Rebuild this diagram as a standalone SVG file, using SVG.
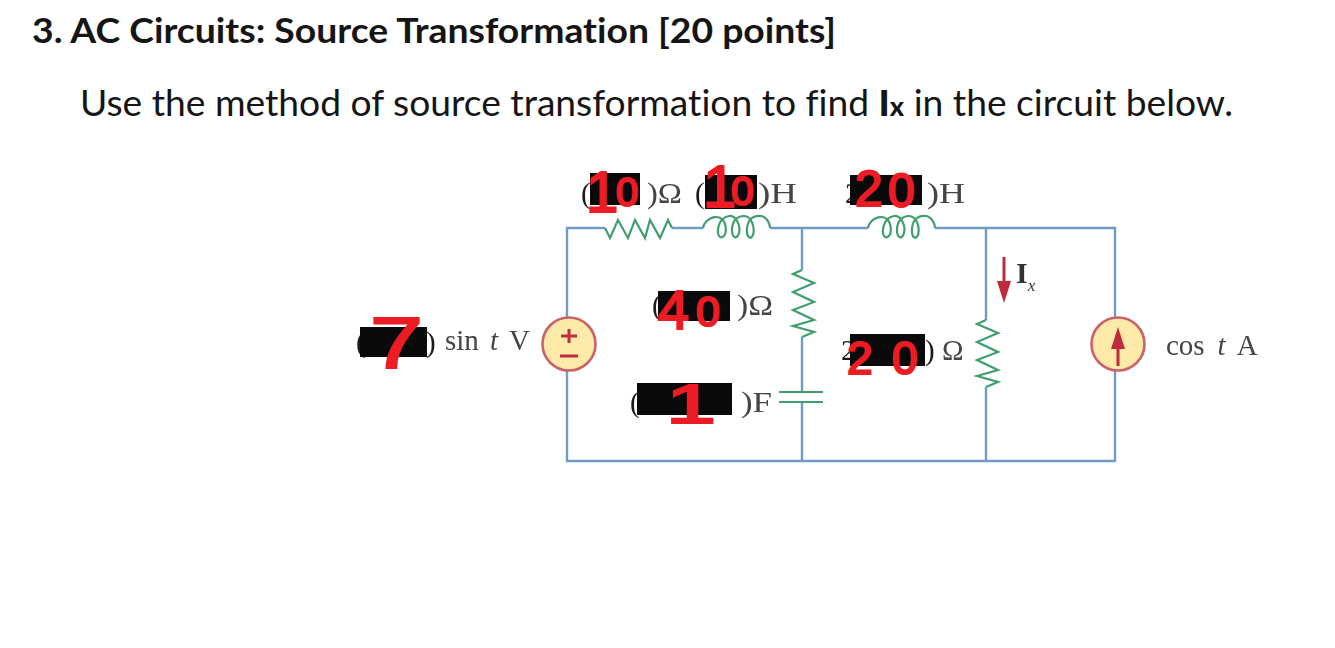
<svg xmlns="http://www.w3.org/2000/svg" width="1335" height="648" viewBox="0 0 1335 648">
<style>
.h{font-family:Lato,"Open Sans",sans-serif;font-variant-ligatures:none;fill:#151515}
.t{font-family:"Liberation Serif","Times New Roman",serif;fill:#444;filter:url(#soft)}
.i{font-style:italic}
.p{fill:#1a1a1a}
.b{fill:#0a0a0a}
.r{font-family:"Liberation Sans",Arial,sans-serif;fill:#ed1c24;stroke:#ed1c24;stroke-width:2.2px}
.w{fill:none;stroke:#6f9bc4;stroke-width:2.4}
.g{fill:none;stroke:#3f9e6e;stroke-width:2.2;stroke-linejoin:miter}
.s{fill:#fde9a8;stroke:#c9626a;stroke-width:2.6}
.m{stroke:#bf2a3c;stroke-width:3;fill:none}
.a{fill:#bf2a3c}
</style>
<defs>
<filter id="soft" x="-5%" y="-5%" width="110%" height="110%"><feGaussianBlur stdDeviation="0.45"/></filter>
<path id="coil" class="g" d="M0 0C2-11 18-16 22-4C25 8 19 10 17 9C13 7 14-10 26-12C33-13 38-2 36 5C34 12 29 10 29 2C29-8 35-12 41-12C49-12 52 0 50 7C48 12 43 10 44 0C45-10 52-13 58-12C64-11 67-4 67 0"/>
<polyline id="rv" class="g" points="0,0 -9,4 12,13 -9,22 12,32 -9,40 12,50 -9,56 12,62 0,67"/>
</defs>
<rect width="1335" height="648" fill="#fff"/>
<text id="title" class="h" x="32" y="43" font-size="34" font-weight="700" textLength="804" lengthAdjust="spacingAndGlyphs">3. AC Circuits: Source Transformation [20 points]</text>
<text id="prompt" class="h" x="80" y="116" font-size="36" textLength="1153" lengthAdjust="spacingAndGlyphs">Use the method of source transformation to find <tspan font-weight="900">I</tspan><tspan font-weight="900" font-size="26">x</tspan> in the circuit below.</text>
<g filter="url(#soft)">
<g id="connectors">
<path class="w" d="M605 228H567V461H1115V228H935M868 228H770M703 228H672M802 228V270M802 337V392M802 402V461M986 228V320M986 387V461"/>
</g>
<g id="R1"><polyline class="g" points="605,228 610,238 618,220 628,238 635,220 645,238 650,220 660,238 668,220 672,228"/></g>
<g id="L1"><use href="#coil" x="703" y="228"/></g>
<g id="L2"><use href="#coil" x="868" y="228"/></g>
<g id="R2"><use href="#rv" x="802" y="270"/></g>
<g id="C1"><path class="g" d="M779 392H823M779 402H823"/></g>
<g id="R3"><use href="#rv" x="986" y="320"/></g>
<g id="Vs"><circle class="s" cx="569" cy="344" r="26.5"/><path class="m" d="M569 329V343M561 336H577M560 356H578"/></g>
<g id="Is"><circle class="s" cx="1118" cy="344" r="26.5"/><path class="m" d="M1118 366V340"/><path class="a" d="M1118 327L1125 349H1111Z"/></g>
<g id="Ix"><path class="m" d="M1004 257V284"/><path class="a" d="M1004 303L997 281H1011Z"/></g>
</g>
<g id="label-ix"><text x="1016" y="283" font-size="30" font-weight="700" class="t" style="fill:#333">I<tspan class="i" font-size="17" font-weight="400" dy="8">x</tspan></text></g>
<g id="label-source">
<text class="t p" x="356" y="352" font-size="29">(</text><rect class="b" x="360" y="327" width="67" height="30"/><text class="t p" x="426" y="352" font-size="29">)</text>
<text class="t" x="445" y="350" font-size="29" word-spacing="4" xml:space="preserve">sin <tspan class="i">t</tspan> V</text>
<text class="r" x="370" y="368" font-size="72" textLength="53" lengthAdjust="spacingAndGlyphs">7</text>
</g>
<g id="label-r1">
<text class="t p" x="581" y="203" font-size="29">(</text><rect class="b" x="590" y="173" width="50" height="32"/><text class="t" x="647" y="203" font-size="29" textLength="35" lengthAdjust="spacingAndGlyphs">)Ω</text>
<text class="r"><tspan x="586" y="212" font-size="58">1</tspan><tspan x="616" y="206" font-size="40">0</tspan></text>
</g>
<g id="label-l1">
<text class="t p" x="695" y="203" font-size="29">(</text><rect class="b" x="705" y="175" width="52" height="34"/><text class="t" x="758" y="203" font-size="29" textLength="39" lengthAdjust="spacingAndGlyphs">)H</text>
<text class="r"><tspan x="703" y="207" font-size="60">1</tspan><tspan x="731" y="205" font-size="41">0</tspan></text>
</g>
<g id="label-l2">
<text class="t p" x="845" y="203" font-size="29">2</text><rect class="b" x="850" y="175" width="72" height="30"/><text class="t" x="927" y="203" font-size="29" textLength="38" lengthAdjust="spacingAndGlyphs">)H</text>
<text class="r"><tspan x="855" y="206" font-size="50">2</tspan><tspan x="888" y="207" font-size="48">0</tspan></text>
</g>
<g id="label-r2">
<text class="t p" x="652" y="315" font-size="29">(</text><rect class="b" x="658" y="291" width="72" height="30"/><text class="t" x="737" y="315" font-size="29" textLength="36" lengthAdjust="spacingAndGlyphs">)Ω</text>
<text class="r"><tspan x="658" y="329" font-size="56">4</tspan><tspan x="696" y="326" font-size="43">0</tspan></text>
</g>
<g id="label-c1">
<text class="t p" x="630" y="412" font-size="29">(</text><rect class="b" x="637" y="383" width="95" height="32"/><text class="t" x="741" y="412" font-size="29" textLength="31" lengthAdjust="spacingAndGlyphs">)F</text>
<text class="r" x="666" y="423" font-size="56" textLength="50" lengthAdjust="spacingAndGlyphs">1</text>
</g>
<g id="label-r3">
<text class="t p" x="841" y="360" font-size="29">2</text><rect class="b" x="850" y="334" width="75" height="32"/><text class="t p" x="925" y="360" font-size="29">)</text><text class="t" x="942" y="360" font-size="29">Ω</text>
<text class="r"><tspan x="847" y="374" font-size="46">2</tspan><tspan x="892" y="374" font-size="46">0</tspan></text>
</g>
<g id="label-is"><text class="t" x="1166" y="355" font-size="29" word-spacing="5.5" xml:space="preserve">cos <tspan class="i">t</tspan> A</text></g>
</svg>
